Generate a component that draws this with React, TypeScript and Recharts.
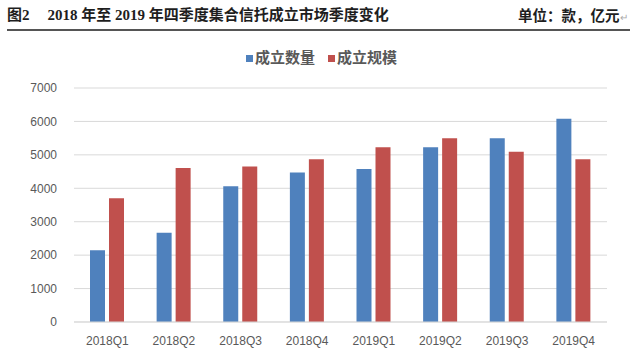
import React from "react";
import { BarChart, Bar, XAxis, YAxis, CartesianGrid } from "recharts";

const categories = ["2018Q1", "2018Q2", "2018Q3", "2018Q4", "2019Q1", "2019Q2", "2019Q3", "2019Q4"];
const countValues = [2150, 2670, 4060, 4470, 4580, 5230, 5500, 6080];
const scaleValues = [3700, 4610, 4650, 4870, 5230, 5500, 5090, 4870];
const yTicks = [0, 1000, 2000, 3000, 4000, 5000, 6000, 7000];
const seriesNames = ["成立数量", "成立规模"];
const seriesColors = ["#4f81bd", "#c0504d"];
const titleText = "图2";
const titleRest = "2018 年至 2019 年四季度集合信托成立市场季度变化";
const unitText = "单位：款，亿元";

const data = categories.map((c, i) => ({ name: c, count: countValues[i], scale: scaleValues[i] }));

const labelFont = "'Liberation Sans', 'Noto Sans CJK SC', sans-serif";

export default function App() {
  return (
    <div style={{ position: "absolute", left: 0, top: 0, width: 630, height: 357, background: "#fff", overflow: "hidden" }}>
      <div style={{ position: "absolute", left: 7, top: 6, fontFamily: "'Liberation Serif', 'Noto Sans CJK SC', serif", fontWeight: 700, fontSize: 15, color: "#1e1e1e", whiteSpace: "pre", lineHeight: "18px" }}>
        <span>{titleText}</span>
        <span style={{ marginLeft: 18 }}>{titleRest}</span>
      </div>
      <div style={{ position: "absolute", left: 518, top: 6, fontFamily: "'Noto Sans CJK SC', sans-serif", fontWeight: 700, fontSize: 14.5, color: "#1e1e1e", whiteSpace: "pre", lineHeight: "18px" }}>
        {unitText}
        <span style={{ color: "#aaa", fontWeight: 400, fontSize: 10 }}>↵</span>
      </div>
      <div style={{ position: "absolute", left: 7, top: 29, width: 623, height: 2, background: "#555" }} />
      <div style={{ position: "absolute", left: 246, top: 47, display: "flex", alignItems: "center", fontFamily: "'Noto Sans CJK SC', sans-serif", fontWeight: 700, fontSize: 15, color: "#595959", lineHeight: "20px" }}>
        {seriesNames.map((n, i) => (
          <div key={n} style={{ display: "flex", alignItems: "center", marginRight: i === 0 ? 13 : 0 }}>
            <div style={{ width: 7, height: 7, background: seriesColors[i], marginRight: 2, marginTop: 3 }} />
            <span>{n}</span>
          </div>
        ))}
      </div>
      <BarChart
        width={630}
        height={357}
        data={data}
        margin={{ top: 88, right: 23, left: 0, bottom: 15 }}
        barGap={4}
        barSize={15}
        style={{ position: "absolute", left: 0, top: 0 }}
      >
        <CartesianGrid vertical={false} stroke="#d9d9d9" strokeWidth={1} />
        <XAxis
          dataKey="name"
          height={20}
          axisLine={{ stroke: "#d9d9d9" }}
          tickLine={false}
          tickMargin={8}
          tick={{ fill: "#595959", fontSize: 12, fontFamily: labelFont }}
        />
        <YAxis
          width={74}
          domain={[0, 7000]}
          ticks={yTicks}
          axisLine={false}
          tickLine={false}
          tickMargin={11}
          tick={{ fill: "#595959", fontSize: 12, fontFamily: labelFont }}
        />
        <Bar dataKey="count" name={seriesNames[0]} fill={seriesColors[0]} isAnimationActive={false} />
        <Bar dataKey="scale" name={seriesNames[1]} fill={seriesColors[1]} isAnimationActive={false} />
      </BarChart>
    </div>
  );
}
